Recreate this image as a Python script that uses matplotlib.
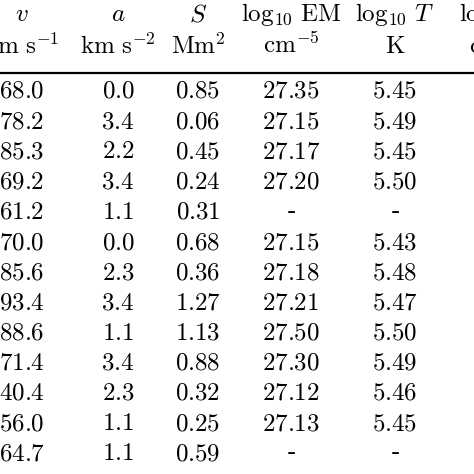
import matplotlib
matplotlib.use("Agg")
import matplotlib.pyplot as plt

plt.rcParams['mathtext.fontset'] = 'cm'

headers = [r'$v$', r'$a$', r'$S$', r'$\log_{10}\,\mathrm{EM}$', r'$\log_{10}\,T$', r'$\log_{10}\,n$']
units = [r'$\mathrm{km\ s^{-1}}$', r'$\mathrm{km\ s^{-2}}$', r'$\mathrm{Mm^{2}}$', r'$\mathrm{cm^{-5}}$', r'$\mathrm{K}$', r'$\mathrm{cm^{-3}}$']
v = ["68.0", "78.2", "85.3", "69.2", "61.2", "70.0", "85.6", "93.4", "88.6", "71.4", "40.4", "56.0", "64.7"]
a = ["0.0", "3.4", "2.2", "3.4", "1.1", "0.0", "2.3", "3.4", "1.1", "3.4", "2.3", "1.1", "1.1"]
S = ["0.85", "0.06", "0.45", "0.24", "0.31", "0.68", "0.36", "1.27", "1.13", "0.88", "0.32", "0.25", "0.59"]
EM = ["27.35", "27.15", "27.17", "27.20", "-", "27.15", "27.18", "27.21", "27.50", "27.30", "27.12", "27.13", "-"]
T = ["5.45", "5.49", "5.45", "5.50", "-", "5.43", "5.48", "5.47", "5.50", "5.49", "5.46", "5.45", "-"]
cols = [v, a, S, EM, T]

W = H = 474
fig = plt.figure(figsize=(4.74, 4.74), dpi=100)
xc = [22, 118, 198, 291, 395]
xc_all = xc + [497]
fs = 18

def put(x, y, s):
    fig.text(x / W, 1 - y / H, s, ha='center', va='center', fontsize=fs)

for x, h, u in zip(xc_all, headers, units):
    put(x, 14, h)
    put(x, 46, u)

fig.add_artist(plt.Line2D([0, 1], [1 - 73 / H, 1 - 73 / H], color='black', lw=1.6))

for i in range(len(v)):
    y = 91 + i * 30.2
    for x, col in zip(xc, cols):
        s = col[i]
        put(x, y, '$' + s + '$' if s != '-' else '-')

fig.savefig("out.png", dpi=100)
